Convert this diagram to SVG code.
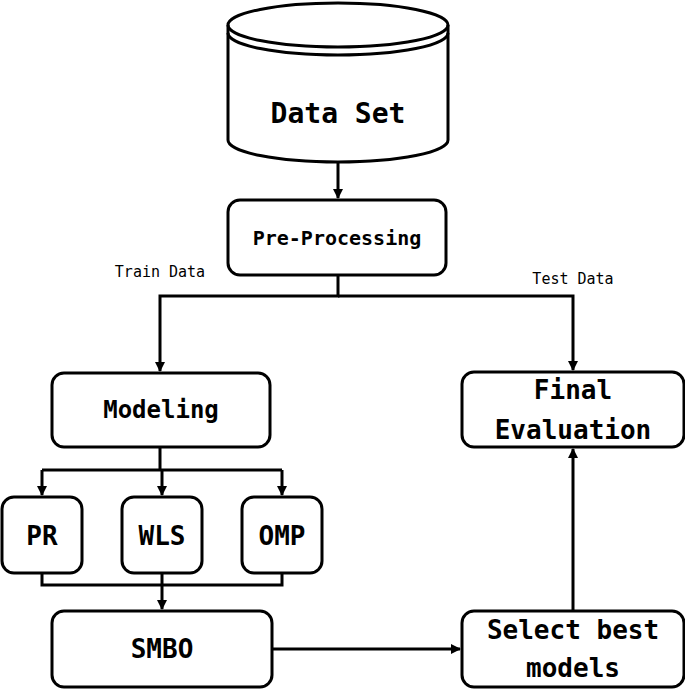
<svg xmlns="http://www.w3.org/2000/svg" width="685" height="689" viewBox="0 0 685 689">
<style>
.n{fill:#fff;stroke:#000;stroke-width:3}
.c{fill:none;stroke:#000;stroke-width:3}
text{font-family:"DejaVu Sans Mono",monospace;font-weight:bold;text-anchor:middle;dominant-baseline:central;fill:#000}
.s{font-size:15px;font-weight:normal}
</style>
<defs><marker id="a" markerWidth="10" markerHeight="10" refX="9" refY="5" orient="auto" markerUnits="userSpaceOnUse"><path d="M0,0L10,5L0,10z" fill="#000"/></marker></defs>
<rect width="685" height="689" fill="#fff"/>
<g id="dataset">
<path class="n" d="M228,25 A110,22 0 0 1 448,25 V140 A110,22 0 0 1 228,140 Z"/>
<path class="c" d="M228,25 A110,22 0 0 0 448,25 M228,33 A110,22 0 0 0 448,33"/>
<text x="338" y="113" font-size="28">Data Set</text>
</g>
<g id="preprocessing"><rect class="n" x="228" y="200" width="218" height="75" rx="12"/><text x="337" y="238" font-size="20">Pre-Processing</text></g>
<g id="modeling"><rect class="n" x="52" y="373" width="218" height="74" rx="12"/><text x="161" y="410" font-size="24">Modeling</text></g>
<g id="final"><rect class="n" x="462" y="372" width="222" height="75" rx="12"/><text x="573" y="390" font-size="26">Final</text><text x="573" y="430" font-size="26">Evaluation</text></g>
<g id="pr"><rect class="n" x="2" y="497" width="80" height="76" rx="12"/><text x="42" y="536" font-size="26">PR</text></g>
<g id="wls"><rect class="n" x="122" y="497" width="80" height="76" rx="12"/><text x="162" y="536" font-size="26">WLS</text></g>
<g id="omp"><rect class="n" x="242" y="497" width="80" height="76" rx="12"/><text x="282" y="536" font-size="26">OMP</text></g>
<g id="smbo"><rect class="n" x="52" y="611" width="220" height="76" rx="12"/><text x="162" y="649" font-size="26">SMBO</text></g>
<g id="select"><rect class="n" x="462" y="611" width="222" height="76" rx="12"/><text x="573" y="630" font-size="26">Select best</text><text x="573" y="668" font-size="26">models</text></g>
<g id="connectors">
<path class="c" d="M338,163V198" marker-end="url(#a)"/>
<path class="c" d="M338,275V296H160V371" marker-end="url(#a)"/>
<path class="c" d="M338,296H573V370" marker-end="url(#a)"/>
<path class="c" d="M160,447V470" />
<path class="c" d="M42,470H282" />
<path class="c" d="M42,470V495" marker-end="url(#a)"/>
<path class="c" d="M162,470V495" marker-end="url(#a)"/>
<path class="c" d="M282,470V495" marker-end="url(#a)"/>
<path class="c" d="M42,573V585H282V573"/>
<path class="c" d="M162,573V609" marker-end="url(#a)"/>
<path class="c" d="M272,649H460" marker-end="url(#a)"/>
<path class="c" d="M573,611V449" marker-end="url(#a)"/>
<text class="s" x="160" y="272">Train Data</text>
<text class="s" x="573" y="279">Test Data</text>
</g>
</svg>
